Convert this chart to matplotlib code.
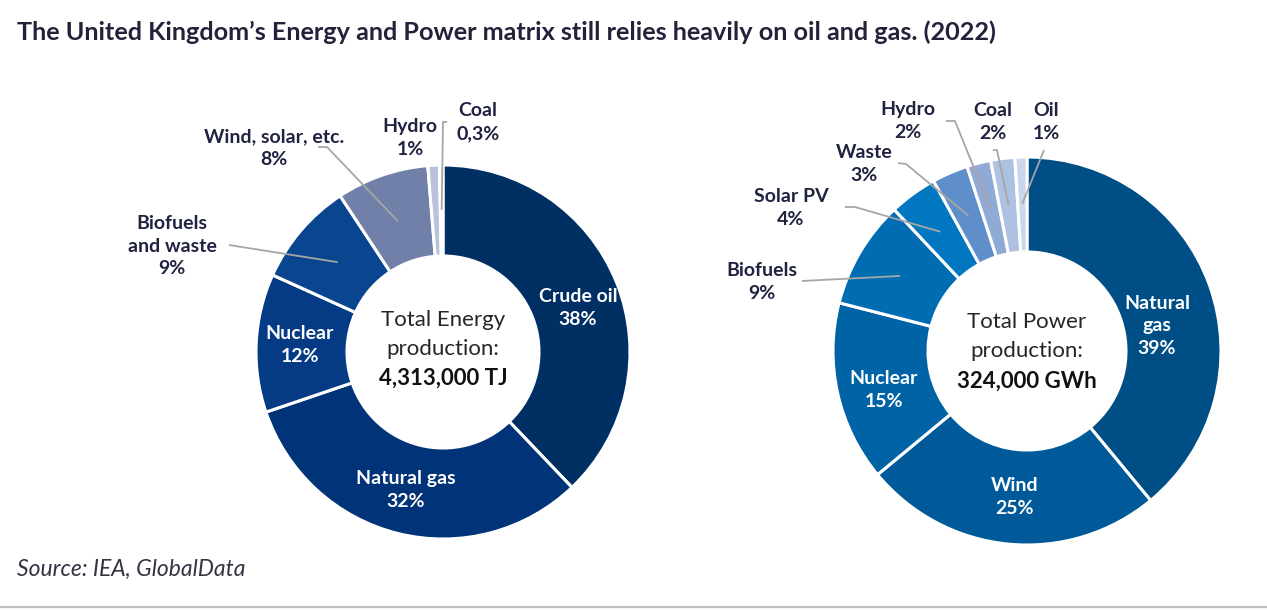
import numpy as np
import matplotlib
matplotlib.use("Agg")
import matplotlib.pyplot as plt

# ---------------------------------------------------------------- data
energy_labels = ["Crude oil", "Natural gas", "Nuclear", "Biofuels\nand waste",
                 "Wind, solar, etc.", "Hydro", "Coal"]
energy_pct = [38, 32, 12, 9, 8, 1, 0.3]
energy_pct_text = ["38%", "32%", "12%", "9%", "8%", "1%", "0,3%"]

power_labels = ["Natural\ngas", "Wind", "Nuclear", "Biofuels", "Solar PV",
                "Waste", "Hydro", "Coal", "Oil"]
power_pct = [39, 25, 15, 9, 4, 3, 2, 2, 1]
power_pct_text = ["39%", "25%", "15%", "9%", "4%", "3%", "2%", "2%", "1%"]

energy_total = "4,313,000 TJ"
power_total = "324,000 GWh"

# ---------------------------------------------------------------- style
W, H = 1267, 610
DARK = "#1f2240"
GREY = "#a6a6a6"
LBL = 14
plt.rcParams["font.family"] = ["Lato", "DejaVu Sans"]

energy_colors = ["#002f63", "#003377", "#053a85", "#0a4590", "#7080a8",
                 "#b9c2da", "#d3d9e8"]
power_colors = ["#004e86", "#005a9a", "#0063a6", "#006cb2", "#0077c0",
                "#5e8fcb", "#8faad5", "#adc1e2", "#c9d6ec"]

fig = plt.figure(figsize=(W / 100, H / 100), dpi=100)
ax = fig.add_axes([0, 0, 1, 1])


def py(y):
    # pixel row -> data y
    return H - y


def donut(center, r_out, r_in, values, colors):
    wedges, _ = ax.pie(values, colors=colors, center=center, radius=r_out,
                       startangle=90, counterclock=False,
                       wedgeprops=dict(width=r_out - r_in, edgecolor="white",
                                       linewidth=2.2))
    return wedges


def wedge_point(w, frac):
    ang = np.deg2rad((w.theta1 + w.theta2) / 2)
    r = w.r * frac
    return w.center[0] + r * np.cos(ang), w.center[1] + r * np.sin(ang)


def label(x, y, name, pct, color, size=LBL):
    ax.text(x, py(y), name + "\n" + pct, ha="center", va="center",
            fontsize=size, fontweight="bold", color=color, linespacing=1.4)


def leader(start, elbow, w, frac):
    ex, ey = wedge_point(w, frac)
    xs = [start[0], elbow[0], ex]
    ys = [py(start[1]), py(elbow[1]), ey]
    ax.plot(xs, ys, color=GREY, lw=1.3, solid_capstyle="butt")


# ---------------------------------------------------------------- left donut
cl = (443, py(352))
ew = donut(cl, 187, 96, energy_pct, energy_colors)

label(578, 308, energy_labels[0], energy_pct_text[0], "white")
label(406, 490, energy_labels[1], energy_pct_text[1], "white")
label(300, 345, energy_labels[2], energy_pct_text[2], "white")
label(172, 246, energy_labels[3], energy_pct_text[3], DARK)
label(274, 148, energy_labels[4], energy_pct_text[4], DARK)
label(410, 138, energy_labels[5], energy_pct_text[5], DARK)
label(478, 122, energy_labels[6], energy_pct_text[6], DARK)

leader((229, 245), (229, 245), ew[3], 0.74)
leader((318, 147), (327, 147), ew[4], 0.74)
leader((447, 122), (443, 122), ew[6], 0.76)

ax.text(cl[0], py(320), "Total Energy", ha="center", va="center",
        fontsize=16, color="#262626")
ax.text(cl[0], py(349), "production:", ha="center", va="center",
        fontsize=16, color="#262626")
ax.text(cl[0], py(378), energy_total, ha="center", va="center",
        fontsize=16, fontweight="bold", color="#111111")

# ---------------------------------------------------------------- right donut
cr = (1027, py(351))
pw = donut(cr, 194, 99, power_pct, power_colors)

ax.text(1157, py(326), power_labels[0] + "\n" + power_pct_text[0],
        ha="center", va="center", fontsize=LBL, fontweight="bold",
        color="white", linespacing=1.4)
label(1015, 497, power_labels[1], power_pct_text[1], "white")
label(884, 390, power_labels[2], power_pct_text[2], "white")
label(762, 282, power_labels[3], power_pct_text[3], DARK)
label(791, 208, power_labels[4], power_pct_text[4], DARK)
label(864, 164, power_labels[5], power_pct_text[5], DARK)
label(908, 121, power_labels[6], power_pct_text[6], DARK)
label(993, 122, power_labels[7], power_pct_text[7], DARK)
label(1046, 122, power_labels[8], power_pct_text[8], DARK)

leader((802, 281), (802, 281), pw[3], 0.76)
leader((845, 207), (855, 207), pw[4], 0.76)
leader((898, 163), (906, 164), pw[5], 0.76)
leader((946, 121), (955, 121), pw[6], 0.76)
leader((993, 150), (997, 150), pw[7], 0.76)
leader((1044, 150), (1044, 150), pw[8], 0.76)

ax.text(cr[0], py(322), "Total Power", ha="center", va="center",
        fontsize=16, color="#262626")
ax.text(cr[0], py(351), "production:", ha="center", va="center",
        fontsize=16, color="#262626")
ax.text(cr[0], py(381), power_total, ha="center", va="center",
        fontsize=16, fontweight="bold", color="#111111")

# ---------------------------------------------------------------- titles
ax.text(17, py(32), "The United Kingdom\u2019s Energy and Power matrix still relies "
        "heavily on oil and gas. (2022)", ha="left", va="center",
        fontsize=18.2, fontweight="bold", color="#22223a")
ax.text(17, py(569), "Source: IEA, GlobalData", ha="left", va="center",
        fontsize=16.5, fontstyle="italic", color="#333344")
ax.plot([0, W], [py(607), py(607)], color="#bfbfbf", lw=1.6)

ax.set_xlim(0, W)
ax.set_ylim(0, H)
ax.set_aspect("equal")
ax.axis("off")

fig.savefig("out.png", dpi=100)
